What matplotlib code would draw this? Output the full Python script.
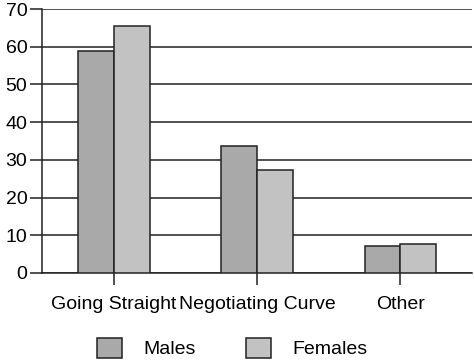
import matplotlib
matplotlib.use("Agg")
import matplotlib.pyplot as plt
import matplotlib.patches as mpatches
import numpy as np

categories = ["Going Straight", "Negotiating Curve", "Other"]
males = [59, 33.7, 7.2]
females = [65.5, 27.3, 7.6]
yticks = [0, 10, 20, 30, 40, 50, 60, 70]

plt.rcParams['font.family'] = ['Liberation Sans', 'DejaVu Sans']

fig = plt.figure(figsize=(4.74, 3.63), dpi=100)
ax = fig.add_axes([0.0886, 0.248, 0.9074, 0.727])

x = np.arange(len(categories))
w = 0.25
male_col = '#a9a9a9'
female_col = '#c2c2c2'
ax.bar(x - w/2, males, w, color=male_col, edgecolor='#222222', linewidth=1.1, zorder=3)
ax.bar(x + w/2, females, w, color=female_col, edgecolor='#222222', linewidth=1.1, zorder=3)

ax.set_xlim(-0.5, 2.5)
ax.set_ylim(0, 70)
ax.set_yticks(yticks)
ax.set_xticks(x)
ax.set_xticklabels(categories)
ax.yaxis.grid(True, color='#222222', linewidth=1.1, zorder=0)
ax.set_axisbelow(True)

for s in ['top', 'right']:
    ax.spines[s].set_visible(False)
for s in ['left', 'bottom']:
    ax.spines[s].set_color('#222222')
    ax.spines[s].set_linewidth(1.1)

ax.tick_params(axis='y', length=8.6, width=1.1, color='#222222', labelsize=14, pad=2)
ax.tick_params(axis='x', length=8.6, width=1.1, color='#222222', labelsize=14, pad=8)

handles = [mpatches.Patch(facecolor=male_col, edgecolor='#222222', linewidth=1.1, label='Males'),
           mpatches.Patch(facecolor=female_col, edgecolor='#222222', linewidth=1.1, label='Females')]
fig.legend(handles=handles, loc='lower center', bbox_to_anchor=(0.49, -0.035), ncol=2,
           frameon=False, fontsize=14, handlelength=1.3, handleheight=1.2,
           handletextpad=1.1, columnspacing=2.6)

fig.savefig('out.png', dpi=100)
